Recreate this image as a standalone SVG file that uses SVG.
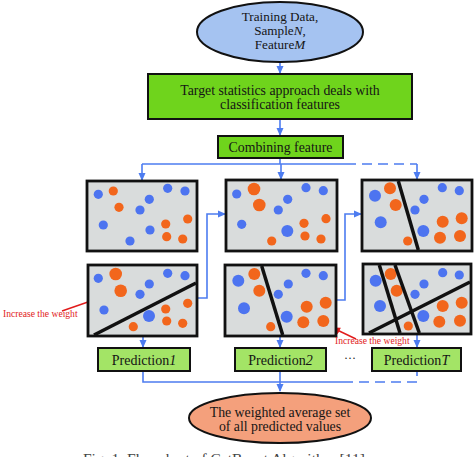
<svg xmlns="http://www.w3.org/2000/svg" width="474" height="457" viewBox="0 0 474 457">
<style>
.t{font-family:"Liberation Serif","Times New Roman",serif;fill:#151515;text-anchor:middle}
.box{fill:#6fd41c;stroke:#111;stroke-width:2}
.pbox{fill:#a3e466;stroke:#111;stroke-width:2}
.panel{fill:#d9dcdc;stroke:#111;stroke-width:2.8}
.b{fill:#4d74f0}
.o{fill:#f2661c}
.cut{stroke:#111;stroke-width:3.5;stroke-linecap:butt}
.c{fill:none;stroke:#4d7cf0;stroke-width:1.6}
.d{fill:none;stroke:#4d7cf0;stroke-width:1.6;stroke-dasharray:10 6}
.r{fill:none;stroke:#e11b1b;stroke-width:1.4}
.rt{font-family:"Liberation Serif","Times New Roman",serif;font-size:9.6px;fill:#e11b1b}
</style>
<defs>
<marker id="ab" markerWidth="8" markerHeight="8" refX="7" refY="4" orient="auto" markerUnits="userSpaceOnUse"><path d="M0,0.5 L8,4 L0,7.5 Z" fill="#4d7cf0"/></marker>
<marker id="ar" markerWidth="8" markerHeight="8" refX="7" refY="4" orient="auto" markerUnits="userSpaceOnUse"><path d="M0,0.5 L8,4 L0,7.5 Z" fill="#e11b1b"/></marker>
</defs>
<rect width="474" height="457" fill="#ffffff"/>

<g id="connectors">
<line class="c" x1="280" y1="63" x2="280" y2="73" marker-end="url(#ab)"/>
<line class="c" x1="280" y1="119" x2="280" y2="135" marker-end="url(#ab)"/>
<line class="c" x1="280" y1="158" x2="280" y2="164"/>
<line class="c" x1="142" y1="164" x2="346" y2="164"/>
<path class="d" d="M346,164 H417"/>
<line class="c" x1="417" y1="164" x2="417" y2="179" marker-end="url(#ab)"/>
<line class="c" x1="142" y1="164" x2="142" y2="180" marker-end="url(#ab)"/>
<line class="c" x1="281" y1="164" x2="281" y2="179" marker-end="url(#ab)"/>
<path class="c" d="M197,298 H207 V214 H225" marker-end="url(#ab)"/>
<path class="c" d="M337,300 H345 V214 H361" marker-end="url(#ab)"/>
<line class="c" x1="143" y1="336" x2="143" y2="347" marker-end="url(#ab)"/>
<line class="c" x1="280" y1="336" x2="280" y2="347" marker-end="url(#ab)"/>
<line class="c" x1="417" y1="334" x2="417" y2="347" marker-end="url(#ab)"/>
<path class="c" d="M143,371 V382 H343"/>
<path class="d" d="M343,382 H417 V371"/>
<line class="c" x1="280" y1="371" x2="280" y2="391" marker-end="url(#ab)"/>
<line class="r" x1="62" y1="311" x2="111" y2="294" marker-end="url(#ar)"/>
<line class="r" x1="356" y1="339" x2="333" y2="328" marker-end="url(#ar)"/>
</g>

<g id="input">
<ellipse cx="280" cy="32" rx="83" ry="30" fill="#a5c3f1" stroke="#111" stroke-width="2"/>
<text class="t" x="280" y="21" font-size="13.2">Training Data,</text>
<text class="t" x="280" y="35" font-size="13.2">Sample<tspan font-style="italic">N</tspan>,</text>
<text class="t" x="280" y="49" font-size="13.2">Feature<tspan font-style="italic">M</tspan></text>
</g>

<g id="target-stats">
<rect class="box" x="148" y="74" width="264" height="45"/>
<text class="t" x="280" y="94.5" font-size="13.8">Target statistics approach deals with</text>
<text class="t" x="280" y="108.5" font-size="13.8">classification features</text>
</g>

<g id="combining">
<rect class="box" x="218" y="136" width="125" height="22"/>
<text class="t" x="280.5" y="152" font-size="13.8">Combining feature</text>
</g>

<g id="panel-1-1">
<rect class="panel" x="87" y="181" width="110" height="70"/>
<circle class="b" cx="98.3" cy="194.3" r="4.6"/>
<circle class="o" cx="113.3" cy="191" r="4.6"/>
<circle class="b" cx="167.7" cy="188.3" r="4.6"/>
<circle class="b" cx="185" cy="191" r="4.6"/>
<circle class="o" cx="119" cy="207.3" r="4.6"/>
<circle class="b" cx="149.3" cy="199.3" r="4.6"/>
<circle class="b" cx="140" cy="210" r="4.6"/>
<circle class="o" cx="187.7" cy="219" r="4.6"/>
<circle class="b" cx="103.3" cy="225" r="4.6"/>
<circle class="o" cx="165.7" cy="224" r="4.6"/>
<circle class="b" cx="150" cy="230" r="4.6"/>
<circle class="o" cx="166.7" cy="236.7" r="4.6"/>
<circle class="o" cx="182.7" cy="239" r="4.6"/>
<circle class="b" cx="130" cy="241" r="4.6"/>
</g>

<g id="panel-1-2">
<rect class="panel" x="226" y="180" width="111" height="71"/>
<circle class="b" cx="236.7" cy="194" r="4.6"/>
<circle class="o" cx="254" cy="189" r="6.3"/>
<circle class="o" cx="259.3" cy="205" r="6.3"/>
<circle class="b" cx="306" cy="187.7" r="4.6"/>
<circle class="b" cx="323.3" cy="190.7" r="4.6"/>
<circle class="b" cx="287.7" cy="199.3" r="4.6"/>
<circle class="b" cx="278.3" cy="210" r="4.6"/>
<circle class="o" cx="326" cy="218.7" r="4.6"/>
<circle class="b" cx="241.7" cy="224.3" r="4.6"/>
<circle class="o" cx="304" cy="223.3" r="4.6"/>
<circle class="b" cx="287.3" cy="231" r="6"/>
<circle class="o" cx="305" cy="236" r="4.6"/>
<circle class="o" cx="321" cy="239" r="4.6"/>
<circle class="o" cx="271.7" cy="241" r="4.6"/>
</g>

<g id="panel-1-3">
<rect class="panel" x="362" y="180" width="110" height="71"/>
<circle class="b" cx="375" cy="195.7" r="6"/>
<circle class="o" cx="390" cy="188.3" r="6"/>
<circle class="o" cx="395.7" cy="205" r="6"/>
<circle class="b" cx="380.7" cy="222.3" r="6"/>
<circle class="o" cx="407.7" cy="241" r="4.6"/>
<circle class="b" cx="442.3" cy="187.7" r="4.6"/>
<circle class="b" cx="459.3" cy="190.7" r="4.6"/>
<circle class="b" cx="424" cy="199.3" r="4.6"/>
<circle class="b" cx="415" cy="210" r="4.6"/>
<circle class="b" cx="423.3" cy="231" r="6"/>
<circle class="o" cx="442.7" cy="221.7" r="6"/>
<circle class="o" cx="461.7" cy="218.3" r="6"/>
<circle class="o" cx="440" cy="237.7" r="6"/>
<circle class="o" cx="460" cy="236" r="6"/>
<line class="cut" x1="398.3" y1="181" x2="418.3" y2="250"/>
</g>

<g id="panel-2-1">
<rect class="panel" x="88" y="265" width="109" height="71"/>
<circle class="b" cx="98.3" cy="278.3" r="4.6"/>
<circle class="o" cx="115.7" cy="274" r="6.3"/>
<circle class="o" cx="120.7" cy="290.7" r="6.3"/>
<circle class="b" cx="167.7" cy="273.3" r="4.6"/>
<circle class="b" cx="185" cy="275.7" r="4.6"/>
<circle class="b" cx="149.3" cy="284" r="4.6"/>
<circle class="b" cx="140" cy="294.3" r="4.6"/>
<circle class="o" cx="187.7" cy="303.3" r="4.6"/>
<circle class="b" cx="104" cy="310" r="4.6"/>
<circle class="o" cx="165.7" cy="309" r="4.6"/>
<circle class="b" cx="149" cy="316" r="6"/>
<circle class="o" cx="166.7" cy="321" r="4.6"/>
<circle class="o" cx="182.7" cy="323.3" r="4.6"/>
<circle class="o" cx="133.3" cy="326.7" r="4.6"/>
<line class="cut" x1="94" y1="335" x2="196" y2="283"/>
</g>

<g id="panel-2-2">
<rect class="panel" x="225" y="265" width="111" height="71"/>
<circle class="b" cx="238.3" cy="280.7" r="6"/>
<circle class="o" cx="254.3" cy="274" r="6"/>
<circle class="o" cx="259.3" cy="290.7" r="6"/>
<circle class="b" cx="244" cy="308.3" r="6"/>
<circle class="o" cx="270.7" cy="326.7" r="4.6"/>
<circle class="b" cx="306" cy="273.3" r="4.6"/>
<circle class="b" cx="323.3" cy="275.7" r="4.6"/>
<circle class="b" cx="288.3" cy="284" r="4.6"/>
<circle class="b" cx="278.3" cy="294.3" r="4.6"/>
<circle class="b" cx="286.7" cy="316.7" r="6"/>
<circle class="o" cx="306.7" cy="306.7" r="6"/>
<circle class="o" cx="325.7" cy="302.7" r="6"/>
<circle class="o" cx="303.3" cy="322.3" r="6"/>
<circle class="o" cx="323.3" cy="321" r="6"/>
<line class="cut" x1="261.7" y1="266" x2="282.7" y2="335"/>
</g>

<g id="panel-2-3">
<rect class="panel" x="363" y="264" width="108" height="70"/>
<circle class="b" cx="375.7" cy="280.7" r="6"/>
<circle class="o" cx="390.7" cy="274" r="6"/>
<circle class="o" cx="396.7" cy="290.7" r="6"/>
<circle class="b" cx="380" cy="306" r="6"/>
<circle class="o" cx="408.3" cy="326" r="4.6"/>
<circle class="b" cx="442.7" cy="272.7" r="4.6"/>
<circle class="b" cx="459.3" cy="275" r="4.6"/>
<circle class="b" cx="424" cy="284" r="4.6"/>
<circle class="b" cx="415" cy="294.3" r="4.6"/>
<circle class="b" cx="423.3" cy="316" r="6"/>
<circle class="o" cx="442.7" cy="306" r="6"/>
<circle class="o" cx="461.7" cy="302.7" r="6"/>
<circle class="o" cx="439.3" cy="321.7" r="6"/>
<circle class="o" cx="460" cy="320.7" r="6"/>
<line class="cut" x1="379.3" y1="265" x2="400" y2="333"/>
<line class="cut" x1="395" y1="265" x2="419.3" y2="333"/>
<line class="cut" x1="369" y1="333" x2="470" y2="282"/>
</g>

<g id="label-weight-1">
<text class="rt" x="3" y="317">Increase the weight</text>
</g>
<g id="label-weight-2">
<text class="rt" x="335" y="344">Increase the weight</text>
</g>

<g id="prediction-1">
<rect class="pbox" x="98" y="348" width="92" height="23"/>
<text class="t" x="144" y="364.5" font-size="14">Prediction<tspan font-style="italic">1</tspan></text>
</g>
<g id="prediction-2">
<rect class="pbox" x="235" y="348" width="91" height="23"/>
<text class="t" x="280.5" y="364.5" font-size="14">Prediction<tspan font-style="italic">2</tspan></text>
</g>
<g id="ellipsis">
<text class="t" x="350" y="362" font-size="12">···</text>
</g>
<g id="prediction-T">
<rect class="pbox" x="372" y="348" width="89" height="23"/>
<text class="t" x="416.5" y="364.5" font-size="14">Prediction<tspan font-style="italic">T</tspan></text>
</g>

<g id="output">
<ellipse cx="280" cy="418" rx="91" ry="25" fill="#f4a07c" stroke="#111" stroke-width="2"/>
<text class="t" x="280" y="416.5" font-size="13.8">The weighted average set</text>
<text class="t" x="280" y="430.5" font-size="13.8">of all predicted values</text>
</g>

<g id="caption">
<text x="83" y="464" font-family="Liberation Serif, Times New Roman, serif" font-size="15.5" fill="#444">Fig. 1. Flowchart of CatBoost Algorithm [11]</text>
</g>
</svg>
